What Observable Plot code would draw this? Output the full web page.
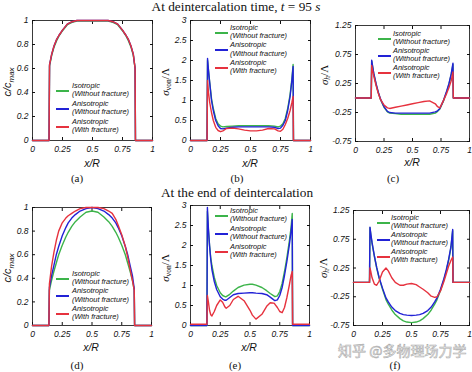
<!DOCTYPE html>
<html><head><meta charset="utf-8">
<script src="https://cdn.jsdelivr.net/npm/d3@7"></script>
<script src="https://cdn.jsdelivr.net/npm/@observablehq/plot@0.6"></script>
<style>
body{margin:0;background:#fff;}
#fig{position:relative;width:472px;height:372px;overflow:hidden;background:#fff;}
.t{position:absolute;white-space:nowrap;transform:translate(-50%,-50%);color:#111;}
.title{font-family:"Liberation Serif";font-size:13.3px;line-height:14px;}
.cap{font-family:"Liberation Serif";font-size:11px;line-height:12px;}
.xl{font-family:"Liberation Sans";font-style:italic;font-size:10.5px;line-height:12px;}
.yl{font-family:"Liberation Sans";font-style:italic;font-size:11px;transform:translate(-50%,-50%) rotate(-90deg);}
.yl sub{font-size:8px;vertical-align:-3px;}
.ys{font-family:"Liberation Serif";font-size:11px;transform:translate(-50%,-50%) rotate(-90deg);}
.ys sub{font-size:7.5px;vertical-align:-2px;}
.lg{position:absolute;font-family:"Liberation Sans";font-style:italic;font-size:7.4px;line-height:8.5px;color:#111;white-space:nowrap;}
.sw{position:absolute;height:2px;width:13px;}
.wm{position:absolute;font-family:"Noto Sans CJK SC";font-size:14px;color:#fff;-webkit-text-stroke:0.6px #aaa;white-space:nowrap;}
</style></head>
<body><div id="fig"></div>
<script>
// ---------- data ----------
const xTicks = [0, 0.25, 0.5, 0.75, 1];
const yTicksC = [0, 0.2, 0.4, 0.6, 0.8, 1];
const yTicksVon = [0, 0.5, 1, 1.5, 2, 2.5, 3];
const yTicksH = [-0.75, -0.25, 0.25, 0.75, 1.25];
const seriesNames = ["Isotropic|(Without fracture)", "Anisotropic|(Without fracture)", "Anisotropic|(With fracture)"];
const seriesColors = ["#3cb44a", "#2222d6", "#e6323e"];

// (a) c/cmax at t = 95 s
const xA = [0,0.138,0.142,0.16,0.18,0.2,0.22,0.25,0.29,0.33,0.37,0.5,0.63,0.67,0.71,0.75,0.78,0.8,0.82,0.84,0.855,0.858,1];
const aIso = [0,0,0.62,0.71,0.78,0.83,0.87,0.915,0.965,0.985,0.995,0.995,0.995,0.985,0.965,0.915,0.87,0.83,0.78,0.71,0.6,0,0];
const aAni = [0,0,0.63,0.72,0.79,0.84,0.875,0.92,0.97,0.99,1,1,1,0.99,0.97,0.92,0.875,0.84,0.79,0.72,0.6,0,0];
const aFra = [0,0,0.63,0.72,0.79,0.84,0.875,0.92,0.97,0.99,1,1,1,0.99,0.97,0.92,0.875,0.84,0.79,0.72,0.6,0,0];

// (b) von Mises at t = 95 s
const xB = [0,0.138,0.142,0.15,0.16,0.175,0.19,0.21,0.23,0.25,0.27,0.3,0.35,0.4,0.45,0.5,0.55,0.6,0.65,0.7,0.73,0.75,0.77,0.79,0.81,0.83,0.845,0.855,0.858,1];
const bIso = [0,0,2.0,1.75,1.45,1.05,0.8,0.55,0.42,0.36,0.34,0.35,0.36,0.37,0.37,0.37,0.37,0.37,0.37,0.36,0.34,0.36,0.42,0.55,0.8,1.15,1.55,1.9,0,0];
const bAni = [0,0,2.05,1.75,1.45,1.0,0.75,0.5,0.37,0.3,0.29,0.31,0.33,0.34,0.34,0.34,0.34,0.34,0.34,0.33,0.3,0.31,0.38,0.5,0.75,1.1,1.5,1.85,0,0];
const bFra = [0,0,1.5,1.2,0.95,0.7,0.5,0.33,0.25,0.22,0.24,0.3,0.31,0.29,0.26,0.24,0.24,0.26,0.3,0.29,0.24,0.23,0.28,0.4,0.55,0.75,0.95,1.1,0,0];

// (c) hydrostatic at t = 95 s
const xC = [0,0.138,0.142,0.15,0.16,0.18,0.2,0.22,0.25,0.28,0.3,0.35,0.4,0.45,0.5,0.55,0.6,0.65,0.7,0.72,0.74,0.77,0.8,0.82,0.84,0.855,0.858,1];
const cIso = [0,0,0.64,0.54,0.42,0.24,0.09,-0.03,-0.16,-0.24,-0.26,-0.27,-0.28,-0.28,-0.28,-0.28,-0.28,-0.28,-0.26,-0.23,-0.19,-0.06,0.11,0.24,0.41,0.58,0,0];
const cAni = [0,0,0.65,0.55,0.43,0.25,0.1,-0.02,-0.15,-0.23,-0.25,-0.26,-0.26,-0.26,-0.26,-0.26,-0.26,-0.26,-0.24,-0.22,-0.18,-0.05,0.12,0.25,0.42,0.6,0,0];
const cFra = [0,0,0.56,0.48,0.38,0.22,0.08,-0.03,-0.12,-0.17,-0.18,-0.16,-0.14,-0.12,-0.1,-0.08,-0.06,-0.05,-0.1,-0.15,-0.17,-0.05,0.08,0.18,0.3,0.45,0,0];

// (d) c/cmax at the end
const xD = [0,0.138,0.142,0.16,0.18,0.2,0.22,0.25,0.28,0.3,0.33,0.36,0.4,0.45,0.5,0.55,0.6,0.64,0.67,0.7,0.72,0.75,0.78,0.8,0.82,0.84,0.855,0.858,1];
const dIso = [0,0,0.3,0.38,0.46,0.53,0.6,0.68,0.75,0.79,0.84,0.88,0.92,0.96,0.97,0.96,0.92,0.88,0.84,0.79,0.75,0.68,0.6,0.53,0.46,0.38,0.3,0,0];
const dAni = [0,0,0.32,0.42,0.51,0.6,0.67,0.76,0.83,0.87,0.91,0.94,0.97,0.99,1,0.99,0.97,0.94,0.91,0.87,0.83,0.76,0.67,0.6,0.51,0.42,0.31,0,0];
const dFra = [0,0,0.35,0.5,0.62,0.72,0.8,0.87,0.91,0.93,0.95,0.97,0.99,1,1,1,0.99,0.97,0.95,0.9,0.85,0.77,0.67,0.58,0.48,0.38,0.3,0,0];

// (e) von Mises at the end
const xE = [0,0.138,0.142,0.15,0.16,0.17,0.18,0.2,0.22,0.25,0.27,0.29,0.3,0.33,0.36,0.4,0.45,0.5,0.52,0.55,0.6,0.64,0.67,0.7,0.71,0.73,0.75,0.77,0.79,0.81,0.83,0.845,0.855,0.858,1];
const eIso = [0,0,2.85,2.4,2.0,1.7,1.5,1.2,1.0,0.82,0.75,0.72,0.72,0.78,0.86,0.95,1.01,1.03,1.03,1.01,0.95,0.87,0.8,0.74,0.72,0.74,0.85,1.05,1.35,1.7,2.1,2.45,2.8,0,0];
const eAni = [0,0,2.95,2.45,2.0,1.65,1.4,1.1,0.9,0.72,0.66,0.63,0.63,0.7,0.77,0.8,0.81,0.82,0.82,0.81,0.8,0.77,0.71,0.64,0.62,0.64,0.75,0.95,1.25,1.6,2.0,2.35,2.65,0,0];
const eFra = [0.03,0.03,0.75,0.6,0.38,0.27,0.24,0.35,0.5,0.64,0.58,0.46,0.43,0.5,0.65,0.73,0.62,0.38,0.26,0.16,0.28,0.48,0.57,0.56,0.53,0.45,0.35,0.32,0.45,0.7,1.0,1.25,1.35,0.03,0.03];

// (f) hydrostatic at the end
const xF = [0,0.138,0.142,0.15,0.16,0.18,0.2,0.22,0.25,0.28,0.3,0.33,0.36,0.4,0.43,0.46,0.5,0.54,0.57,0.6,0.64,0.67,0.7,0.72,0.75,0.78,0.8,0.82,0.84,0.855,0.858,1];
const fIso = [0,0,0.95,0.82,0.68,0.45,0.25,0.08,-0.12,-0.3,-0.38,-0.48,-0.56,-0.63,-0.67,-0.69,-0.7,-0.69,-0.67,-0.63,-0.56,-0.48,-0.38,-0.3,-0.14,0.05,0.2,0.38,0.6,0.9,0,0];
const fAni = [0,0,0.96,0.83,0.69,0.46,0.26,0.09,-0.1,-0.27,-0.34,-0.43,-0.49,-0.54,-0.56,-0.57,-0.575,-0.57,-0.56,-0.54,-0.49,-0.43,-0.34,-0.27,-0.12,0.07,0.22,0.4,0.62,0.92,0,0];
const fFra = [0,0,0.25,0.18,0.08,-0.03,-0.05,0.02,0.18,0.25,0.2,0.08,0.0,-0.05,-0.05,-0.03,-0.02,-0.04,-0.08,-0.12,-0.18,-0.24,-0.26,-0.25,-0.15,0.02,0.15,0.28,0.38,0.44,0,0];

// ---------- drawing ----------
const fig = document.getElementById("fig");
const fmt = d => String(d);

function addText(html, x, y, cls) {
  const el = document.createElement("div");
  el.className = "t " + cls;
  el.innerHTML = html;
  el.style.left = x + "px"; el.style.top = y + "px";
  fig.appendChild(el);
}

function makePanel(p) {
  const mL = 40, mR = 12, mT = 12, mB = 30;
  const marks = [
    Plot.frame({stroke: "#3a3a3a", strokeWidth: 1}),
    Plot.axisX({ticks: xTicks, tickSize: -3, tickPadding: 8, tickFormat: fmt, label: null}),
    Plot.axisX({anchor: "top", ticks: xTicks, tickSize: -3, tickPadding: 0, tickFormat: () => "", label: null}),
    Plot.axisY({ticks: p.yticks, tickSize: -3, tickPadding: 7, tickFormat: fmt, label: null}),
    Plot.axisY({anchor: "right", ticks: p.yticks, tickSize: -3, tickPadding: 0, tickFormat: () => "", label: null})
  ];
  p.series.forEach((vals, k) => {
    const rows = p.x.map((xv, i) => ({x: xv, y: vals[i]}));
    marks.push(Plot.line(rows, {x: "x", y: "y", stroke: seriesColors[k], strokeWidth: 1.4}));
  });
  const svg = Plot.plot({
    width: p.w + mL + mR, height: p.h + mT + mB,
    marginLeft: mL, marginRight: mR, marginTop: mT, marginBottom: mB,
    x: {domain: [0, 1]}, y: {domain: p.ydomain},
    style: {fontFamily: "Liberation Sans", fontStyle: "italic", fontSize: "8.5px", color: "#111", background: "transparent", overflow: "visible"},
    marks
  });
  svg.style.position = "absolute";
  svg.style.left = (p.fx - mL) + "px";
  svg.style.top = (p.fy - mT) + "px";
  svg.style.maxWidth = "none";
  fig.appendChild(svg);

  // legend
  const L = p.legend;
  seriesNames.forEach((name, k) => {
    const [l1, l2] = name.split("|");
    const yc = L.y0 + k * L.pitch;
    const tx = document.createElement("div");
    tx.className = "lg";
    tx.innerHTML = l1 + "<br>" + l2;
    tx.style.left = L.tx + "px"; tx.style.top = (yc - 4.5) + "px";
    fig.appendChild(tx);
    const sw = document.createElement("div");
    sw.className = "sw";
    sw.style.background = seriesColors[k];
    sw.style.left = L.sx + "px"; sw.style.top = (yc + 3.5) + "px";
    fig.appendChild(sw);
  });
}

makePanel({x: xA, series: [aIso, aAni, aFra], ydomain: [0, 1], yticks: yTicksC, fx: 32, fy: 20, w: 120, h: 120,
  legend: {sx: 56, tx: 72, y0: 86, pitch: 18}});
makePanel({x: xB, series: [bIso, bAni, bFra], ydomain: [0, 3], yticks: yTicksVon, fx: 190, fy: 20, w: 120, h: 120,
  legend: {sx: 215, tx: 230, y0: 28, pitch: 17.5}});
makePanel({x: xC, series: [cIso, cAni, cFra], ydomain: [-0.75, 1.25], yticks: yTicksH, fx: 355, fy: 25, w: 114, h: 116,
  legend: {sx: 378, tx: 393, y0: 34, pitch: 17}});
makePanel({x: xD, series: [dIso, dAni, dFra], ydomain: [0, 1], yticks: yTicksC, fx: 32, fy: 207, w: 119, h: 118,
  legend: {sx: 56, tx: 72, y0: 274, pitch: 17.5}});
makePanel({x: xE, series: [eIso, eAni, eFra], ydomain: [0, 3], yticks: yTicksVon, fx: 190, fy: 205, w: 119, h: 120,
  legend: {sx: 215, tx: 230, y0: 211, pitch: 18}});
makePanel({x: xF, series: [fIso, fAni, fFra], ydomain: [-0.75, 1.25], yticks: yTicksH, fx: 353, fy: 210, w: 116, h: 115,
  legend: {sx: 377, tx: 391, y0: 218, pitch: 17}});

// titles
addText('At deintercalation time, <i>t</i> = 95 <i>s</i>', 236, 7, "title");
addText('At the end of deintercalation', 237, 193, "title");
// captions
addText("(a)", 77, 178, "cap"); addText("(b)", 237, 178, "cap"); addText("(c)", 393, 178, "cap");
addText("(d)", 77, 365, "cap"); addText("(e)", 235, 365, "cap"); addText("(f)", 395, 365, "cap");
// x labels
addText("x/R", 92, 163, "xl"); addText("x/R", 250, 163, "xl"); addText("x/R", 412, 162, "xl");
addText("x/R", 91, 347, "xl"); addText("x/R", 249, 347, "xl");
// y labels
addText("c/c<sub>max</sub>", 8, 82, "yl");
addText("c/c<sub>max</sub>", 8, 268, "yl");
addText("<i>σ</i><sub>von</sub>/Λ", 166, 82, "ys");
addText("<i>σ</i><sub>von</sub>/Λ", 166, 268, "ys");
addText("<i>σ</i><sub><i>h</i></sub>/Λ", 325, 75, "ys");
addText("<i>σ</i><sub><i>h</i></sub>/Λ", 324, 268, "ys");
// watermark
const wm = document.createElement("div");
wm.className = "wm"; wm.textContent = "知乎 @多物理场力学";
wm.style.left = "338px"; wm.style.top = "340px";
fig.appendChild(wm);
</script></body></html>
